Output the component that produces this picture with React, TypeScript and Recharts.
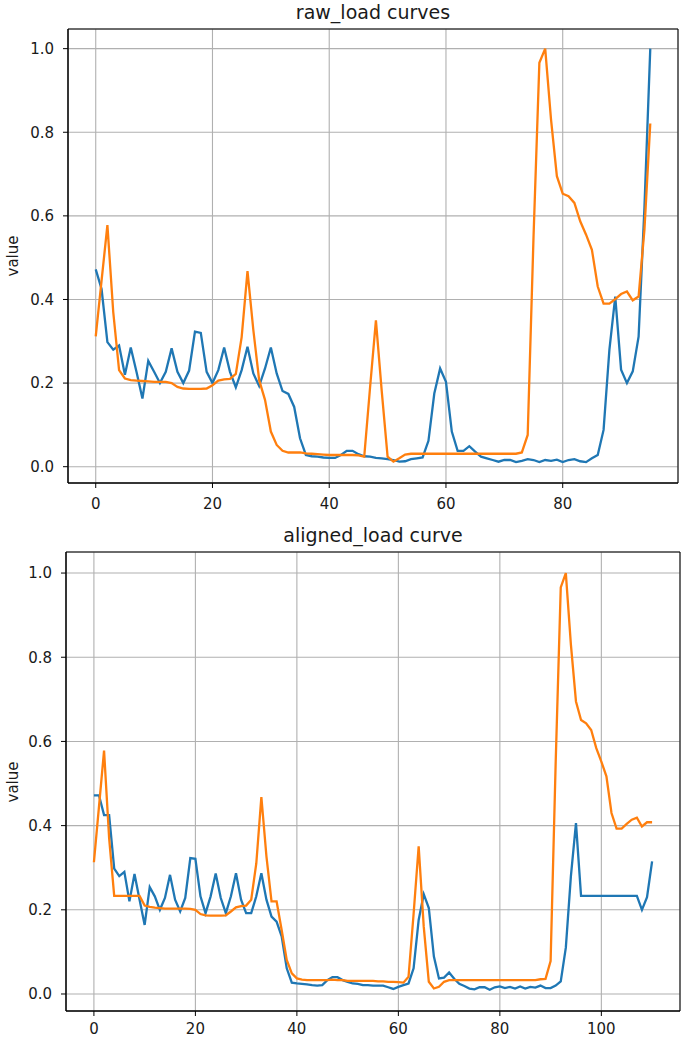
import React from 'react';
import { LineChart, Line, XAxis, YAxis, CartesianGrid, ReferenceArea } from 'recharts';

// raw series, index 0..95
const rawBlue = [
  0.472, 0.425, 0.298, 0.28, 0.29, 0.22, 0.285, 0.226, 0.163, 0.253,
  0.227, 0.2, 0.227, 0.283, 0.227, 0.2, 0.23, 0.323, 0.32, 0.227,
  0.2, 0.231, 0.285, 0.227, 0.19, 0.231, 0.287, 0.223, 0.193, 0.235,
  0.285, 0.223, 0.181, 0.174, 0.143, 0.068, 0.028, 0.025, 0.024, 0.022,
  0.021, 0.021, 0.028, 0.038, 0.038, 0.03, 0.025, 0.024, 0.021, 0.02,
  0.018, 0.016, 0.012, 0.013, 0.018, 0.02, 0.022, 0.062, 0.175, 0.235,
  0.203, 0.084, 0.038, 0.038, 0.049, 0.036, 0.024, 0.02, 0.016, 0.012,
  0.016, 0.016, 0.011, 0.014, 0.018, 0.016, 0.011, 0.016, 0.014, 0.017,
  0.011, 0.016, 0.018, 0.013, 0.011, 0.02, 0.028, 0.088, 0.28, 0.407,
  0.232, 0.2, 0.228, 0.311, 0.62, 1.0,
];

const rawOrange = [
  0.312, 0.445, 0.578, 0.37, 0.231, 0.211, 0.207, 0.206, 0.205, 0.204,
  0.203, 0.203, 0.203, 0.2, 0.191, 0.187, 0.186, 0.186, 0.186, 0.187,
  0.195, 0.206, 0.209, 0.21, 0.222, 0.31, 0.468, 0.327, 0.207, 0.16,
  0.084, 0.052, 0.038, 0.034, 0.034, 0.034, 0.032, 0.031, 0.03, 0.029,
  0.028, 0.028, 0.028, 0.028, 0.028, 0.027, 0.024, 0.19, 0.35, 0.18,
  0.024, 0.012, 0.02, 0.029, 0.031, 0.031, 0.031, 0.031, 0.031, 0.031,
  0.031, 0.031, 0.031, 0.031, 0.031, 0.031, 0.031, 0.031, 0.031, 0.031,
  0.031, 0.031, 0.031, 0.034, 0.076, 0.55, 0.966, 1.0, 0.83, 0.695,
  0.653, 0.647, 0.631, 0.587, 0.555, 0.519, 0.431, 0.39, 0.39, 0.401,
  0.413, 0.419, 0.398, 0.407, 0.567, 0.821,
];

// aligned series, index 0..110
const alignedBlue = [
  0.472, 0.472, 0.425, 0.425, 0.298, 0.28, 0.29, 0.22, 0.285, 0.224,
  0.164, 0.254, 0.232, 0.2, 0.228, 0.283, 0.224, 0.196, 0.228, 0.323,
  0.321, 0.232, 0.192, 0.232, 0.286, 0.228, 0.192, 0.232, 0.287, 0.224,
  0.192, 0.192, 0.232, 0.287, 0.224, 0.184, 0.172, 0.137, 0.061, 0.027,
  0.025, 0.024, 0.023, 0.021, 0.02, 0.021, 0.033, 0.04, 0.04, 0.033,
  0.029, 0.025, 0.024, 0.021, 0.021, 0.02, 0.02, 0.02, 0.016, 0.012,
  0.017, 0.021, 0.025, 0.061, 0.176, 0.237, 0.204, 0.089, 0.037, 0.039,
  0.051, 0.036, 0.024, 0.019, 0.013, 0.011, 0.016, 0.016, 0.01, 0.016,
  0.018, 0.014, 0.017, 0.013, 0.018, 0.013, 0.017, 0.015, 0.02, 0.014,
  0.014, 0.02, 0.03, 0.11, 0.28, 0.406, 0.233, 0.233, 0.233, 0.233,
  0.233, 0.233, 0.233, 0.233, 0.233, 0.233, 0.233, 0.233, 0.2, 0.23,
  0.315,
];

const alignedOrange = [
  0.313, 0.445, 0.578, 0.37, 0.233, 0.233, 0.233, 0.233, 0.233, 0.233,
  0.21, 0.207, 0.205, 0.204, 0.203, 0.203, 0.203, 0.203, 0.203, 0.202,
  0.2, 0.19, 0.187, 0.186, 0.186, 0.186, 0.187, 0.196, 0.206, 0.209,
  0.21, 0.224, 0.31, 0.468, 0.327, 0.22, 0.22, 0.152, 0.081, 0.049,
  0.037, 0.034, 0.033, 0.033, 0.033, 0.033, 0.033, 0.034, 0.033, 0.033,
  0.031, 0.031, 0.031, 0.031, 0.031, 0.031, 0.03, 0.03, 0.029, 0.029,
  0.028, 0.027, 0.041, 0.19, 0.351, 0.16, 0.029, 0.013, 0.017, 0.029,
  0.033, 0.033, 0.033, 0.033, 0.033, 0.033, 0.033, 0.033, 0.033, 0.033,
  0.033, 0.033, 0.033, 0.033, 0.033, 0.033, 0.033, 0.033, 0.035, 0.036,
  0.078, 0.55, 0.966, 1.0, 0.83, 0.695, 0.651, 0.643, 0.627, 0.584,
  0.552, 0.517, 0.43, 0.393, 0.393, 0.404, 0.414, 0.419, 0.398, 0.408,
  0.408,
];

const rawTicks = [0, 20, 40, 60, 80];
const alignedTicks = [0, 20, 40, 60, 80, 100];
const yTicks = [0, 0.2, 0.4, 0.6, 0.8, 1.0];

const BLUE = '#1f77b4';
const ORANGE = '#ff7f0e';
const FONT = '"DejaVu Sans", sans-serif';

const rawData = rawBlue.map((v, i) => ({ x: i, a: v, b: rawOrange[i] }));
const alignedData = alignedBlue.map((v, i) => ({ x: i, a: v, b: alignedOrange[i] }));

interface PanelProps {
  title: string;
  data: { x: number; a: number; b: number }[];
  xDomain: [number, number];
  yDomain: [number, number];
  xTicks: number[];
  top: number;
  height: number;
  margin: { top: number; right: number; bottom: number; left: number };
  yWidth: number;
  xHeight: number;
  xTickMargin: number;
}

const tickStyle = { fontSize: 15, fill: '#1a1a1a', fontFamily: FONT };

const Panel: React.FC<PanelProps> = ({ title, data, xDomain, yDomain, xTicks, top, height, margin, yWidth, xHeight, xTickMargin }) => {
  const plotLeft = margin.left + yWidth;
  const plotRight = 685 - margin.right;
  const plotTop = margin.top;
  const plotBottom = height - margin.bottom - xHeight;
  return (
    <div style={{ position: 'absolute', left: 0, top, width: 685, height }}>
      <div
        style={{
          position: 'absolute',
          left: plotLeft,
          width: plotRight - plotLeft,
          top: plotTop - 29,
          textAlign: 'center',
          fontFamily: FONT,
          fontSize: 19,
          color: '#1a1a1a',
          lineHeight: '24px',
        }}
      >
        {title}
      </div>
      <div
        style={{
          position: 'absolute',
          left: 12.5,
          top: (plotTop + plotBottom) / 2,
          transform: 'translate(-50%, -50%) rotate(-90deg)',
          fontFamily: FONT,
          fontSize: 15,
          color: '#1a1a1a',
          whiteSpace: 'nowrap',
        }}
      >
        value
      </div>
      <LineChart width={685} height={height} data={data} margin={margin}>
        <CartesianGrid stroke="#b0b0b0" strokeWidth={1.1} />
        <XAxis
          dataKey="x"
          type="number"
          domain={xDomain}
          allowDataOverflow
          ticks={xTicks}
          interval={0}
          height={xHeight}
          tickSize={5}
          tickMargin={xTickMargin}
          tick={tickStyle}
          stroke="#000"
        />
        <YAxis
          type="number"
          domain={yDomain}
          allowDataOverflow
          ticks={yTicks}
          interval={0}
          width={yWidth}
          tickSize={5}
          tickMargin={9}
          tick={tickStyle}
          tickFormatter={(v: number) => v.toFixed(1)}
          stroke="#000"
        />
        <ReferenceArea
          x1={xDomain[0]}
          x2={xDomain[1]}
          y1={yDomain[0]}
          y2={yDomain[1]}
          fill="none"
          stroke="#000"
          strokeWidth={1}
          ifOverflow="visible"
        />
        <Line dataKey="a" type="linear" stroke={BLUE} strokeWidth={2.3} dot={false} isAnimationActive={false} />
        <Line dataKey="b" type="linear" stroke={ORANGE} strokeWidth={2.3} dot={false} isAnimationActive={false} />
      </LineChart>
    </div>
  );
};

export default function App() {
  return (
    <div style={{ position: 'absolute', left: 0, top: 0, width: 685, height: 1039, background: '#fff' }}>
      <Panel
        title="raw_load curves"
        data={rawData}
        xDomain={[-4.75, 99.75]}
        yDomain={[-0.039, 1.047]}
        xTicks={rawTicks}
        top={0}
        height={520}
        margin={{ top: 29, right: 7, bottom: 0, left: 0 }}
        yWidth={68}
        xHeight={37}
        xTickMargin={10}
      />
      <Panel
        title="aligned_load curve"
        data={alignedData}
        xDomain={[-5.5, 115.5]}
        yDomain={[-0.0404, 1.05]}
        xTicks={alignedTicks}
        top={520}
        height={519}
        margin={{ top: 32, right: 5, bottom: 0, left: 0 }}
        yWidth={66}
        xHeight={28}
        xTickMargin={7}
      />
    </div>
  );
}
